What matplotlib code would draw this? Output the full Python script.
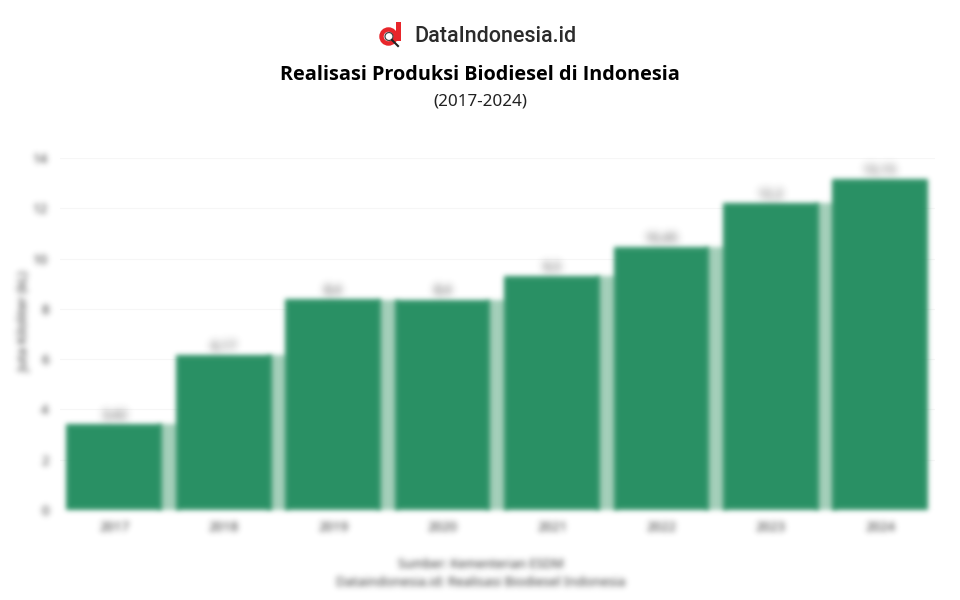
import matplotlib
matplotlib.use("Agg")
import matplotlib.pyplot as plt
from matplotlib.patches import Circle, Rectangle
import numpy as np

years = ["2017", "2018", "2019", "2020", "2021", "2022", "2023", "2024"]
values = [3.42, 6.17, 8.40, 8.37, 9.30, 10.45, 12.20, 13.15]
value_labels = ["3,42", "6,17", "8,4", "8,4", "9,3", "10,45", "12,2", "13,15"]
y_ticks = [0, 2, 4, 6, 8, 10, 12, 14]

GREEN = "#2a9165"
HALO = "#a5d0bb"
GREY = "#2a2a2a"


def smooth(arr, sigma):
    pad = int(sigma * 3)
    radius = np.arange(-pad, pad + 1)
    kernel = np.exp(-radius ** 2 / (2 * sigma ** 2))
    kernel = kernel / kernel.sum()
    for axis in (0, 1):
        arr = np.apply_along_axis(lambda m: np.convolve(m, kernel, mode="same"), axis, arr)
    return arr


def make_blur(sigma):
    # agg hands over straight alpha, so weight the colours by alpha while blurring
    def blur(image, dpi):
        pad = int(sigma * 3) + 1
        image = np.pad(image, ((pad, pad), (pad, pad), (0, 0)))
        alpha = smooth(image[:, :, 3], sigma)
        out = np.zeros_like(image)
        safe = np.maximum(alpha, 1e-4)
        for c in range(3):
            out[:, :, c] = smooth(image[:, :, c] * image[:, :, 3], sigma) / safe
        out[:, :, 3] = alpha
        return np.clip(out, 0, 1), -pad, -pad
    return blur


bar_blur = make_blur(2.5)
text_blur = make_blur(3.0)

fig = plt.figure(figsize=(9.6, 6), dpi=100)
ax = fig.add_axes([59.5 / 960, 1 - 510 / 600, 875.5 / 960, 352 / 600])
ax.patch.set_visible(False)

# the pale strip between two bars only runs as high as the lower of the two
x = np.arange(len(years))
gap_heights = [min(a, b) for a, b in zip(values[:-1], values[1:])]
gaps = ax.bar(x[:-1] + 0.5, gap_heights, width=0.2, color=HALO)
bars = ax.bar(x, values, width=0.875, color=GREEN)
for rect in list(gaps) + list(bars):
    rect.set_agg_filter(bar_blur)
for i, label in enumerate(value_labels):
    t = ax.annotate(label, (i, values[i]), xytext=(0, 1.5), textcoords="offset points",
                    ha="center", va="bottom", fontsize=9.5, color=GREY, family="Noto Sans")
    t.set_agg_filter(text_blur)

ax.set_xlim(-0.5, 7.5)
ax.set_ylim(0, 14)
ax.set_xticks(x, years)
ax.set_yticks(y_ticks)
ax.grid(axis="y", color="#f6f6f6", linewidth=0.8)
ax.set_axisbelow(True)
ax.tick_params(length=0, labelsize=9.5, labelcolor=GREY, pad=8)
for label in ax.get_xticklabels() + ax.get_yticklabels():
    label.set_family("Noto Sans")
    label.set_agg_filter(text_blur)
for side in ax.spines:
    ax.spines[side].set_visible(False)
ylab = ax.set_ylabel("Juta Kiloliter (kL)", fontsize=9.5, color=GREY, family="Noto Sans", labelpad=2, y=0.535)
ylab.set_agg_filter(text_blur)

# header
fig.text(495 / 960, 1 - 37 / 600, "DataIndonesia.id", ha="center", va="center",
         fontsize=15.5, family="Roboto", weight="medium", color="#2b2b2b")
fig.text(480 / 960, 1 - 75 / 600, "Realisasi Produksi Biodiesel di Indonesia", ha="center", va="center",
         fontsize=14.3, family="Open Sans", weight="bold", color="black")
fig.text(480 / 960, 1 - 101 / 600, "(2017-2024)", ha="center", va="center",
         fontsize=12.3, family="Noto Sans", color="#222222")

# logo, in pixels of an overlay axes
logo = fig.add_axes([0, 0, 1, 1], facecolor="none")
logo.set_xlim(0, 960)
logo.set_ylim(600, 0)
logo.axis("off")
logo.add_patch(Circle((388.5, 36.5), 7, fill=False, edgecolor="#e8262b", linewidth=3.2))
logo.add_patch(Rectangle((396, 22), 4.5, 19, color="#e8262b", linewidth=0))
logo.add_patch(Circle((389, 36.5), 4, fill=False, edgecolor="#444444", linewidth=0.9))
logo.plot([392, 398], [40, 46], color="#222222", linewidth=1.5)

# footer
for y, line, size in [(564, "Sumber: Kementerian ESDM", 9),
                      (582.5, "Dataindonesia.id: Realisasi Biodiesel Indonesia", 9.5)]:
    t = fig.text(481 / 960, 1 - y / 600, line, ha="center", va="center",
                 fontsize=size, family="Noto Sans", color=GREY)
    t.set_agg_filter(text_blur)

fig.savefig("out.png", dpi=100, facecolor="white")
